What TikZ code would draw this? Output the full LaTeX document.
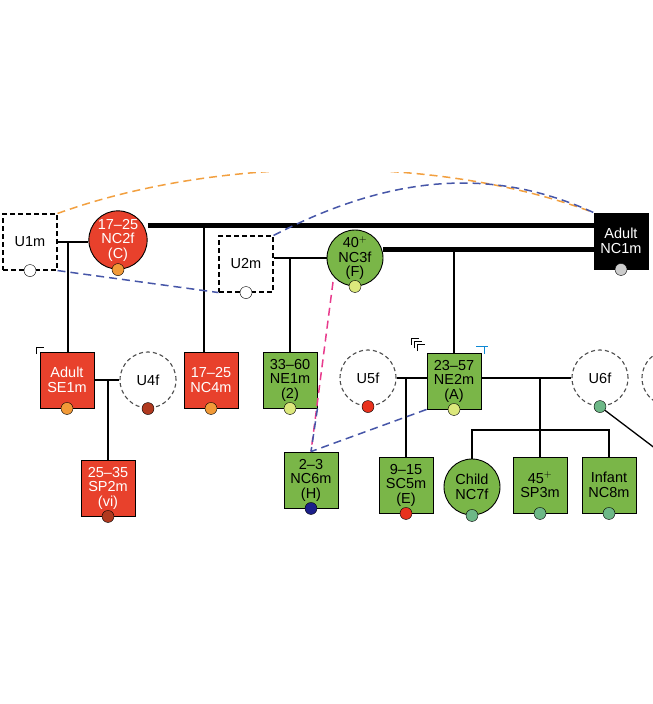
\documentclass[tikz,border=0pt]{standalone}
\usepackage{fontspec}
\setmainfont{Liberation Sans}
\usetikzlibrary{positioning,arrows.meta}
\definecolor{redfill}{HTML}{E8412C}
\definecolor{greenfill}{HTML}{7AB648}
\definecolor{dotorange}{HTML}{F29A38}
\definecolor{dotbrown}{HTML}{B0391F}
\definecolor{dotlime}{HTML}{DCE87C}
\definecolor{dotnavy}{HTML}{1B1F8A}
\definecolor{dotred}{HTML}{E8321E}
\definecolor{dotteal}{HTML}{6DB887}
\definecolor{dashorange}{HTML}{F2A040}
\definecolor{dashblue}{HTML}{4656A8}
\definecolor{dashpink}{HTML}{E83A8C}
\begin{document}
\begin{tikzpicture}[x=1pt, y=-1pt,
    font=\fontsize{14.5}{14.5}\selectfont,
    male/.style={draw=black, line width=0.9pt, rectangle, minimum width=54pt, minimum height=56pt, inner sep=0pt, align=center},
    female/.style={draw=black, line width=0.9pt, circle, minimum size=56pt, inner sep=0pt, align=center},
    redm/.style={male, fill=redfill, text=white},
    redf/.style={female, fill=redfill, text=white},
    grnm/.style={male, fill=greenfill},
    grnf/.style={female, fill=greenfill},
    unkm/.style={male, line width=1.1pt, dash pattern=on 5pt off 3pt},
    unkf/.style={female, line width=1.1pt, draw=black!70, dash pattern=on 4pt off 3pt},
    dot/.style={draw=black, circle, minimum size=12pt, inner sep=0pt},
    tie/.style={line width=1.3pt},
    bond/.style={line width=5pt},
    link/.style={line width=1.5pt, dash pattern=on 8pt off 5pt}]
\useasboundingbox (0,0) rectangle (653,704);
% NODES
% -----------------
\node[unkm]  (U1m)  at (30,242)  {U1m};
\node[redf]  (NC2f) at (118,240) {17--25\\NC2f\\(C)};
\node[unkm]  (U2m)  at (246,264) {U2m};
\node[grnf]  (NC3f) at (355,258) {40$^+$\\NC3f\\(F)};
\node[male, fill=black, text=white] (NC1m) at (621,241) {Adult\\NC1m};
\node[redm]  (SE1m) at (67,380)  {Adult\\SE1m};
\node[unkf]  (U4f)  at (148,380) {U4f};
\node[redm]  (NC4m) at (211,380) {17--25\\NC4m};
\node[redm]  (SP2m) at (108,488) {25--35\\SP2m\\(vi)};
\node[grnm]  (NE1m) at (290,380) {33--60\\NE1m\\(2)};
\node[grnm]  (NC6m) at (311,480) {2--3\\NC6m\\(H)};
\node[unkf]  (U5f)  at (368,378) {U5f};
\node[grnm]  (NE2m) at (454,381) {23--57\\NE2m\\(A)};
\node[unkf]  (U6f)  at (600,378) {U6f};
\node[unkf]  (U7f)  at (670,378) {};
\node[grnm]  (SC5m) at (406,485) {9--15\\SC5m\\(E)};
\node[grnf]  (NC7f) at (472,487) {Child\\NC7f};
\node[grnm]  (SP3m) at (540,485) {45$^+$\\SP3m};
\node[grnm]  (NC8m) at (609,485) {Infant\\NC8m};
% dots
\foreach \n/\c in {U1m/white, NC2f/dotorange, U2m/white, NC3f/dotlime, NC1m/black!20,
    SE1m/dotorange, U4f/dotbrown, NC4m/dotorange, SP2m/dotbrown, NE1m/dotlime,
    NC6m/dotnavy, U5f/dotred, NE2m/dotlime, U6f/dotteal, SC5m/dotred,
    NC7f/dotteal, SP3m/dotteal, NC8m/dotteal}
  \node[dot, fill=\c] (d\n) at (\n.south) {};
% EDGES
% -----------------
\draw[bond] (NC2f.east |- 0,225) -- (NC1m.west |- 0,225);
\draw[bond] (NC3f.east |- 0,249) -- (NC1m.west |- 0,249);
\draw[tie] (U1m.east) -- (NC2f.west |- U1m.east);
\draw[tie] (68,242) -- (SE1m.north -| 68,0);
\draw[tie] (204,225) -- (NC4m.north -| 204,0);
\draw[tie] (U2m.east |- NC3f.west) -- (NC3f.west);
\draw[tie] (290,258) -- (NE1m.north);
\draw[tie] (NE2m.north |- 0,249) -- (NE2m.north);
\draw[tie] (SE1m.east) -- (U4f.west);
\draw[tie] (108,380) -- (SP2m.north);
\draw[tie] (U5f.east) -- (NE2m.west |- U5f.east);
\draw[tie] (406,378) -- (SC5m.north);
\draw[tie] (NE2m.east |- U6f.west) -- (U6f.west);
\draw[tie] (540,378) -- (540,430);
\draw[tie] (NC7f.north) -- (NC7f.north |- 0,430) -- (NC8m.north |- 0,430) -- (NC8m.north);
\draw[tie] (540,430) -- (SP3m.north);
\draw[tie] (dU6f) -- (660,452);
% dashed links
\begin{scope}
\clip (0,172) rectangle (653,704);
\draw[link, dashorange] (U1m.north east) .. controls (220,155) and (440,155) .. (NC1m.north west);
\draw[link, dashblue] (U2m.north east) .. controls (400,170) and (500,170) .. (NC1m.north west);
\end{scope}
\draw[link, dashblue] (U1m.south east) -- (U2m.south west);
\draw[link, dashpink] (333,282) -- (NC6m.north);
\draw[link, dashblue] (NE1m.south east) -- (NC6m.north);
\draw[link, dashblue] (NE2m.south west) -- (NC6m.north);
% marks
\draw[line width=0.6pt] (36,354) -- (36,347) -- (44,347);
\foreach \k in {0,3,6}
  \draw[line width=0.6pt] (411+\k,345+\k) -- (411+\k,338+\k) -- (419+\k,338+\k);
\draw[line width=0.6pt, cyan!70!blue] (476,346) -- (488,346) (484,346) -- (484,354);
\end{tikzpicture}
\end{document}
